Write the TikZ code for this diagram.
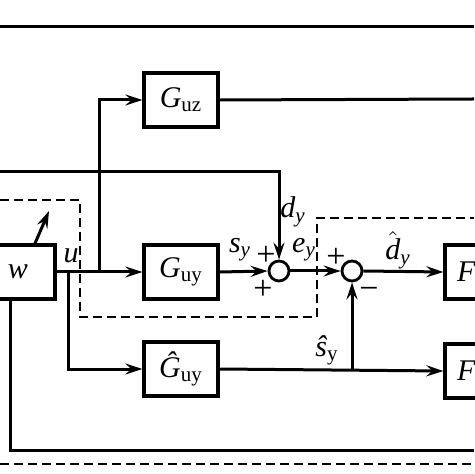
\documentclass[tikz,border=0pt]{standalone}
\usepackage{fontspec}
\setmainfont{Liberation Serif}
\usetikzlibrary{arrows.meta}

\newcommand{\sg}[2]{\textit{#1}\textsubscript{\textit{#2}}}
\newcommand{\tf}[2]{\textit{#1}\textsubscript{#2}}

\begin{document}
\begin{tikzpicture}[x=0.5pt,y=-0.5pt,>={Stealth[length=8.5pt,width=5.5pt,inset=3pt]},
    font=\fontsize{15}{18}\selectfont]
  \tikzstyle{block}=[draw,line width=1.6pt,minimum width=37pt,minimum height=27pt,inner sep=0pt]
  \tikzstyle{sum}=[draw,circle,line width=1.4pt,minimum size=10pt,inner sep=0pt]
  \tikzstyle{sig}=[line width=1.5pt]
  \tikzstyle{bound}=[line width=1.3pt,dash pattern=on 4.5pt off 2.5pt]
  \tikzstyle{sign}=[font=\fontsize{17}{18}\selectfont,inner sep=0pt]

  \useasboundingbox (0,0) rectangle (474,474);

  % blocks
  \node[block] (W)    at (18,272)  {\textit{w}};
  \node[block] (Guz)  at (181,100) {\tf{G}{uz}};
  \node[block] (Guy)  at (181,272) {\tf{G}{uy}};
  \node[block] (Ghat) at (181,369) {\textit{\^{G}}\textsubscript{uy}};
  \node[block,text width=27pt,align=left,inner xsep=6pt] (F1) at (484,272) {\textit{F}};
  \node[block,text width=27pt,align=left,inner xsep=6pt] (F2) at (484,371) {\textit{F}};
  \node[sum] (S1) at (279,271) {};
  \node[sum] (S2) at (352,271) {};

  % free ends
  \coordinate (top0) at (0,27);
  \coordinate (top1) at (474,27);
  \coordinate (zout) at (474,99);
  \coordinate (din)  at (0,172);
  \coordinate (u1)   at (68,271);
  \coordinate (u2)   at (99,271);
  \coordinate (sj)   at (S2 |- Ghat);
  \coordinate (fb)   at (10,450);
  \coordinate (fbend) at (474,450);
  \coordinate (tune) at (49,211);

  % signals
  \draw[sig] (top0) -- (top1);
  \draw[sig] (Guz.east) -- (zout);
  \draw[sig,->] (W.east) -- (Guy.west);
  \draw[sig,->] (u2) |- (Guz.west);
  \draw[sig,->] (u1) |- (Ghat.west);
  \draw[sig,->] (din) -| (S1.north);
  \draw[sig,->] (Guy.east) -- (S1.west);
  \draw[sig,->] (S1.east) -- (S2.west);
  \draw[sig,->] (S2.east) -- (F1.west);
  \draw[sig,->] (Ghat.east) -- (F2.west);
  \draw[sig,->] (sj) -- (S2.south);
  \draw[sig] (W.south -| fb) -- (fb) -- (fbend);
  \draw[sig,->] ([xshift=8.5pt]W.north) -- (tune);

  % boundaries
  \draw[bound] (0,200) -- (80,200) -- (80,317) -- (317,317) -- (317,218) -- (474,218);
  \draw[bound] (0,464) -- (474,464);

  % labels
  \node (lu)  at (71,256)  {\textit{u}};
  \node (ls)  at (240,250) {\sg{s}{y}};
  \node (ld)  at (293,212) {\sg{d}{y}};
  \node (le)  at (304,250) {\sg{e}{y}};
  \node (ldh) at (398,250) {$\hat{\mbox{\textit{d}}}$\textsubscript{\textit{y}}};
  \node (lsh) at (327,350) {\textit{\^{s}}\textsubscript{y}};
  \node[sign] (p1) at (266,256) {+};
  \node[sign] (p2) at (263,290) {+};
  \node[sign] (p3) at (336,258) {+};
  \node[sign] (m1) at (369,293) {−};
\end{tikzpicture}
\end{document}
